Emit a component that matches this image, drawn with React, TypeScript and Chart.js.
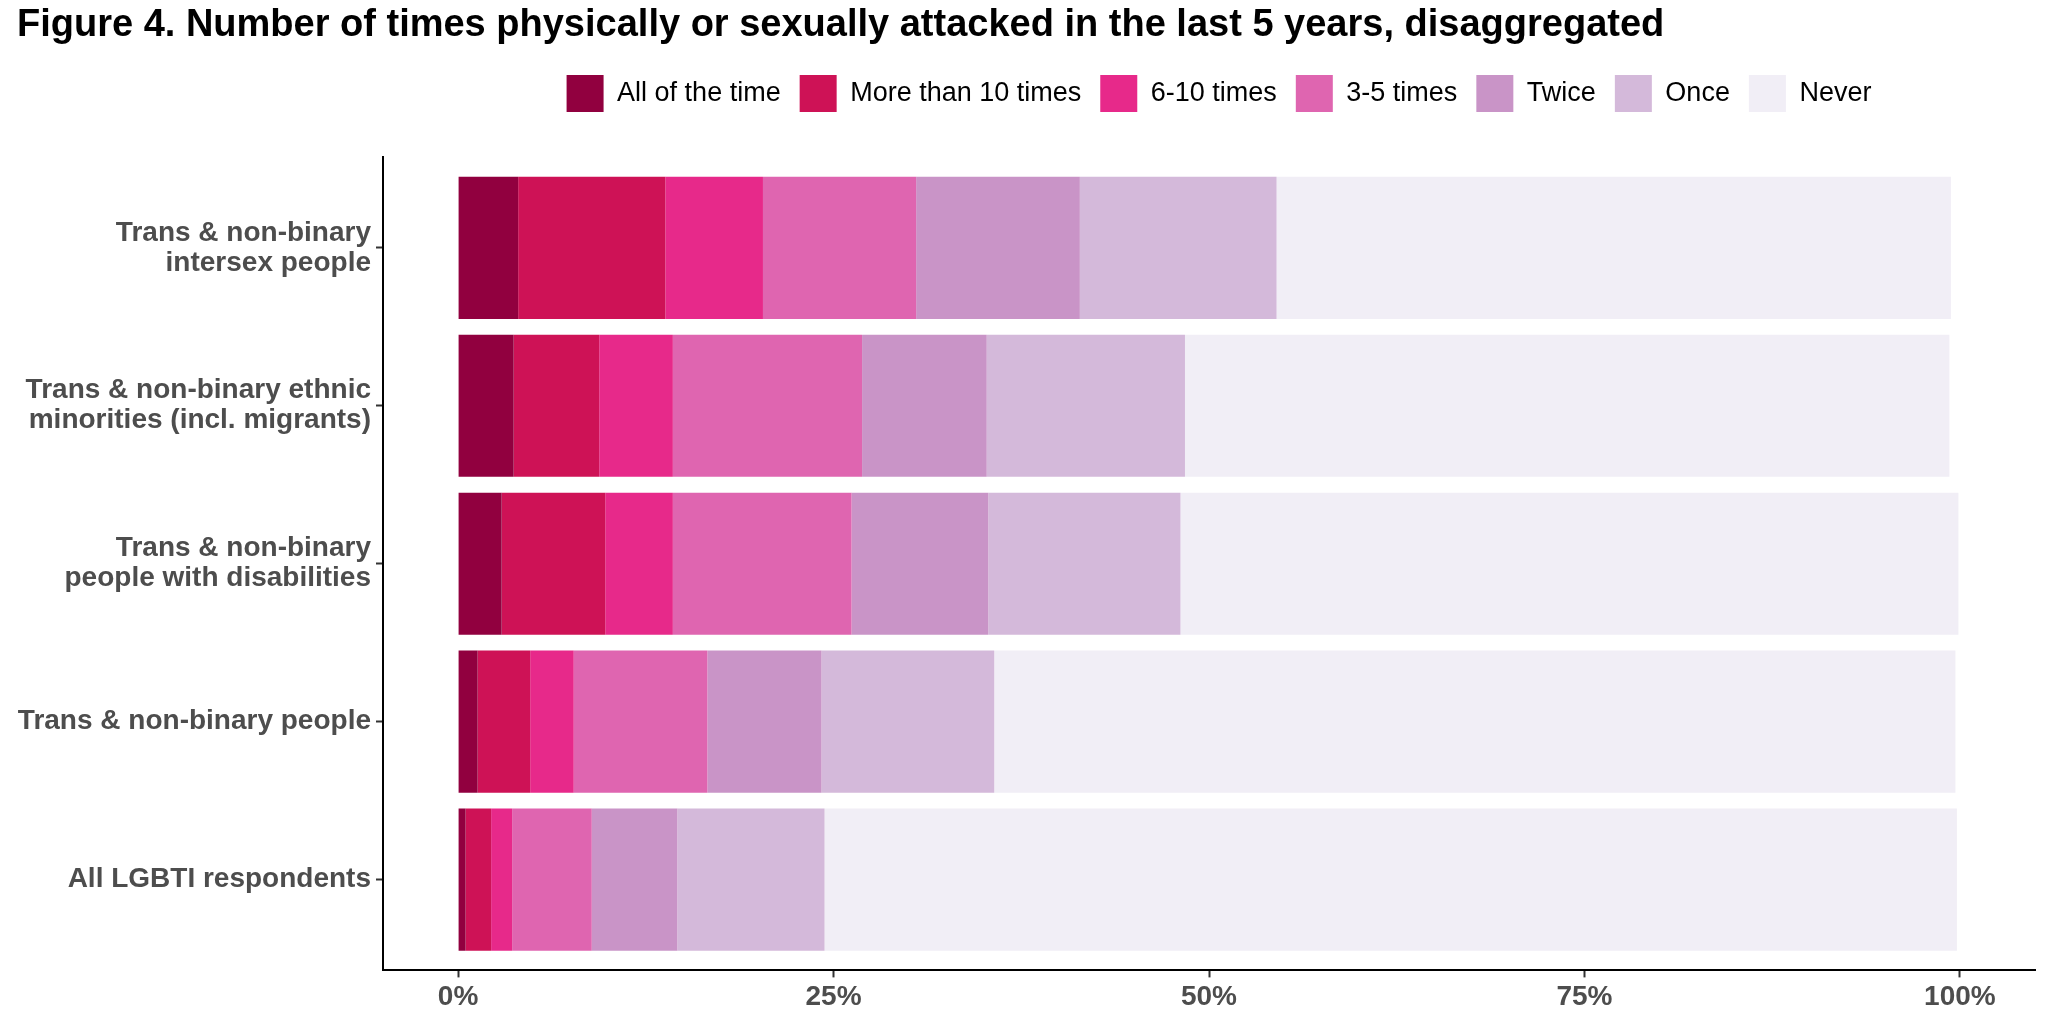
import { useEffect, useRef } from 'react';
import { Chart, registerables } from 'chart.js';

Chart.register(...registerables);

// rows, top to bottom
const categories: (string | string[])[] = [
  ['Trans & non-binary', 'intersex people'],
  ['Trans & non-binary ethnic', 'minorities (incl. migrants)'],
  ['Trans & non-binary', 'people with disabilities'],
  'Trans & non-binary people',
  'All LGBTI respondents',
];

const seriesNames = ['All of the time', 'More than 10 times', '6-10 times', '3-5 times', 'Twice', 'Once', 'Never'];

// share of respondents (%), one value per row
const allOfTheTime = [4.0, 3.7, 2.9, 1.3, 0.5];
const moreThan10 = [9.8, 5.7, 6.9, 3.5, 1.7];
const sixToTen = [6.5, 4.9, 4.5, 2.9, 1.4];
const threeToFive = [10.2, 12.6, 11.9, 8.9, 5.3];
const twice = [10.9, 8.3, 9.1, 7.6, 5.7];
const once = [13.1, 13.2, 12.8, 11.5, 9.8];
const never = [44.9, 50.9, 51.8, 64.0, 75.4];

const xTicks = [0, 25, 50, 75, 100];

const seriesValues = [allOfTheTime, moreThan10, sixToTen, threeToFive, twice, once, never];
// ColorBrewer PuRd, dark to light
const colors = ['#91003f', '#ce1256', '#e7298a', '#df65b0', '#c994c7', '#d4b9da', '#f1eef6'];

const FONT = "'Liberation Sans', Arial, sans-serif";
const AXIS_TEXT = '#4d4d4d';

// ggplot puts the legend over the panel, not the whole canvas
const legendOverPanel = {
  id: 'legendOverPanel',
  afterLayout(chart: any) {
    const legend = chart.legend;
    if (!legend) return;
    legend.left = chart.chartArea.left + 10;
    legend.right = chart.chartArea.right + 10;
  },
};

export default function App() {
  const canvasRef = useRef<HTMLCanvasElement>(null);

  useEffect(() => {
    if (!canvasRef.current) return;

    const chart = new Chart(canvasRef.current, {
      type: 'bar',
      data: {
        datasets: seriesNames.map((name, k) => ({
          label: name,
          data: seriesValues[k].map((v, i) => ({ x: v, y: i })),
          backgroundColor: colors[k],
          borderWidth: 0,
          barPercentage: 0.9,
          categoryPercentage: 1,
        })),
      },
      options: {
        indexAxis: 'y',
        animation: false,
        responsive: true,
        maintainAspectRatio: false,
        layout: { padding: { left: 17, right: 13, top: 0, bottom: 7 } },
        scales: {
          x: {
            type: 'linear',
            min: -5,
            max: 105,
            stacked: true,
            afterBuildTicks: (s: any) => {
              s.ticks = xTicks.map((value) => ({ value }));
            },
            border: { display: true, color: '#000', width: 2 },
            grid: { drawOnChartArea: false, drawTicks: true, tickLength: 7, tickWidth: 2, tickColor: '#333' },
            ticks: {
              callback: (v: any) => `${v}%`,
              color: AXIS_TEXT,
              font: { family: FONT, size: 28, weight: 'bold' },
              padding: 3,
              maxRotation: 0,
              autoSkip: false,
            },
          },
          y: {
            type: 'linear',
            reverse: true,
            offset: false,
            min: -0.575,
            max: 4.575,
            stacked: true,
            afterBuildTicks: (s: any) => {
              s.ticks = categories.map((_, i) => ({ value: i }));
            },
            afterFit: (s: any) => {
              s.width = 366;
            },
            border: { display: true, color: '#000', width: 2 },
            grid: {
              offset: false,
              drawOnChartArea: false,
              drawTicks: true,
              tickLength: 7,
              tickWidth: 2,
              tickColor: '#333',
            },
            ticks: {
              callback: (v: any) => categories[v],
              color: AXIS_TEXT,
              font: { family: FONT, size: 28, weight: 'bold', lineHeight: 1.07 },
              padding: 5,
              autoSkip: false,
            },
          },
          // empty band between legend and panel
          gap: {
            type: 'linear',
            position: 'top',
            display: true,
            border: { display: false },
            grid: { display: false, drawTicks: false },
            ticks: { display: false },
            afterFit: (s: any) => {
              s.height = 35;
            },
          },
        },
        plugins: {
          title: {
            display: true,
            text: 'Figure 4. Number of times physically or sexually attacked in the last 5 years, disaggregated',
            align: 'start',
            color: '#000',
            font: { family: FONT, size: 38, weight: 'bold', lineHeight: 1.2 },
            padding: { top: 3, bottom: 7.4 },
          },
          legend: {
            display: true,
            position: 'top',
            align: 'center',
            labels: {
              boxWidth: 37,
              boxHeight: 37,
              padding: 19,
              color: '#000',
              font: { family: FONT, size: 27 },
            },
          },
          tooltip: { enabled: false },
        },
      } as any,
      plugins: [legendOverPanel],
    });

    return () => {
      chart.destroy();
    };
  }, []);

  return (
    <div style={{ position: 'fixed', left: 0, top: 0, width: 2048, height: 1024, background: '#fff' }}>
      <canvas ref={canvasRef} />
    </div>
  );
}
